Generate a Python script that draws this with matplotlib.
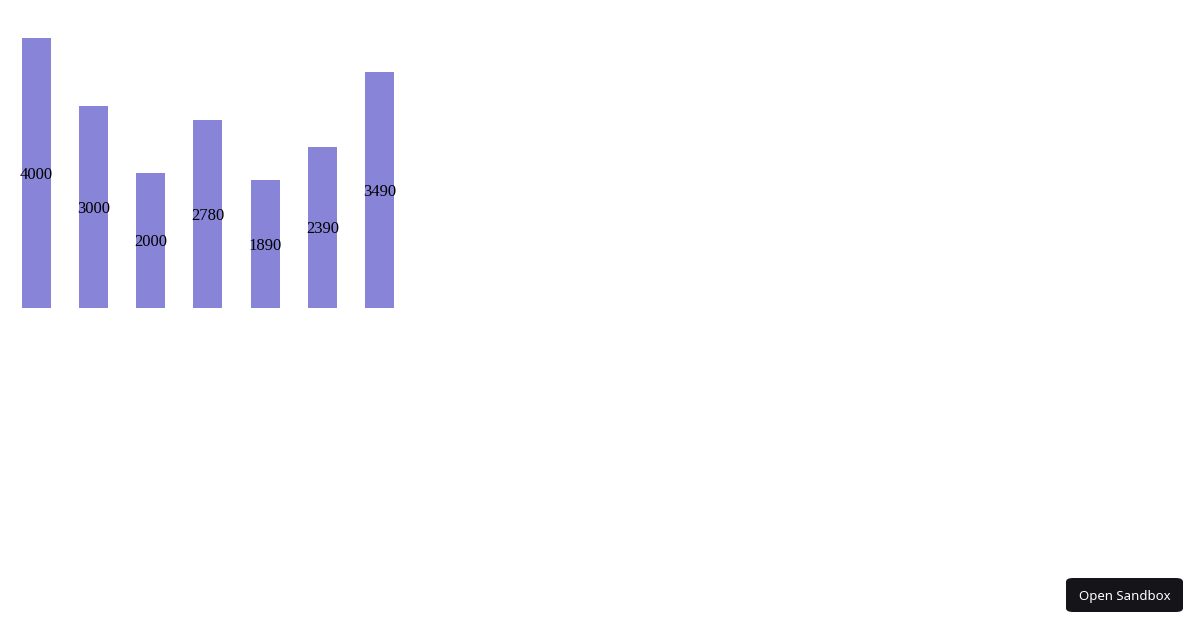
import matplotlib
matplotlib.use('Agg')
from matplotlib import pyplot as plt
from matplotlib.patches import FancyBboxPatch

values = [4000, 3000, 2000, 2780, 1890, 2390, 3490]
labels = [str(v) for v in values]

W, H = 1200, 630
fig = plt.figure(figsize=(W / 100, H / 100), dpi=100)
fig.patch.set_facecolor('white')

# plot area in pixels: x 8..408, y 38..308
band = 57.17
ax = fig.add_axes([7.9 / W, (H - 308) / H, 7 * band / W, 270 / H])
x = list(range(len(values)))
ax.bar(x, values, width=29 / band, color='#8884d8')
for xi, v, lab in zip(x, values, labels):
    ax.text(xi, v / 2, lab, ha='center', va='center_baseline', fontsize=12,
            family='Liberation Serif', color='black')
ax.set_xlim(-0.5, len(values) - 0.5)
ax.set_ylim(0, 4000)
ax.axis('off')

# "Open Sandbox" button
bx0, by0, bx1, by1 = 1066, 578, 1183, 612
btn = FancyBboxPatch((bx0 / W, (H - by1) / H), (bx1 - bx0) / W, (by1 - by0) / H,
                     boxstyle='round,pad=0,rounding_size=0.006',
                     transform=fig.transFigure, facecolor='#151419',
                     edgecolor='none')
fig.patches.append(btn)
fig.text((bx0 + bx1) / 2 / W, (H - (by0 + by1) / 2) / H, 'Open Sandbox',
         ha='center', va='center_baseline', color='white', fontsize=9.5,
         family='Noto Sans', weight='medium')

fig.savefig('out.png', dpi=100)
